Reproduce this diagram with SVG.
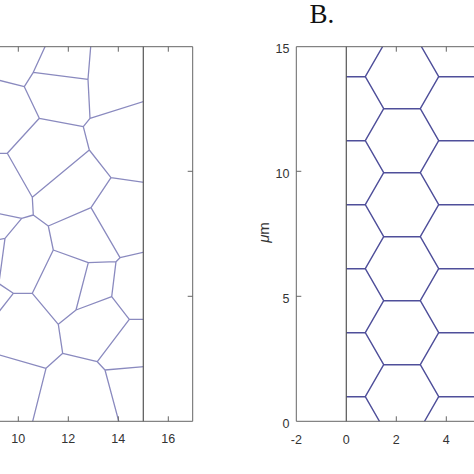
<svg xmlns="http://www.w3.org/2000/svg" width="474" height="474" viewBox="0 0 474 474">
<style>
.ax{stroke:#666;stroke-width:1;fill:none}
.dk{stroke:#555;stroke-width:1.2;fill:none}
.vor{stroke:#8a8abf;stroke-width:1.3;fill:none;stroke-linecap:round;stroke-linejoin:round}
.hex{stroke:#4f4f9a;stroke-width:1.4;fill:none;stroke-linejoin:round}
.tl{font-family:"Liberation Sans",Arial,sans-serif;font-size:12.5px;fill:#333}
.ttl{font-family:"Liberation Serif","Times New Roman",serif;font-size:27px;fill:#111}
</style>
<defs>
<clipPath id="cl"><rect x="0" y="46.7" width="143.3" height="374.6"/></clipPath>
<clipPath id="cr"><rect x="296.3" y="46.7" width="180" height="374.6"/></clipPath>
</defs>
<rect width="474" height="474" fill="#fff"/>

<g id="left-plot">
<g id="voronoi" clip-path="url(#cl)">
<path class="vor" d="M46.5,43.5 L33.3,72.3 L88,79.3 M91,43 L88,79.3 L90,118.3 M33.3,72.3 L24.3,86.7 M-2,80 L24.3,86.7 L39.3,118.3 L83.3,126.7 L90,118.3 L146,100.8 M39.3,118.3 L7.3,153.3 M-2,153.3 L7.3,153.3 L32.3,197.3 M83.3,126.7 L89.3,150 L32.3,197.3 L33.3,215 M89.3,150 L111,177.7 L146,182.7 M111,177.7 L91,207.7 L48.3,226 L33.3,215 L21.7,218.3 L-2,213.5 M21.7,218.3 L5,238.3 L-2,239.7 M5,238.3 L-0.5,279 M48.3,226 L53.3,250 L88.3,262.7 L116,261.7 L120,257.7 L146,251.7 M91,207.7 L120,257.7 M116,261.7 L111.7,296.7 L129.3,319.3 L146,319.3 M88.3,262.7 L76,310 L111.7,296.7 M53.3,250 L32.3,293.3 L13.3,293.3 L-2,283 M13.3,293.3 L-2,313 M32.3,293.3 L58.3,324.3 L76,310 M58.3,324.3 L62.7,353.3 L97.3,361.7 L129.3,319.3 M97.3,361.7 L105,370 L146,366.5 M105,370 L119.5,424 M62.7,353.3 L46,368.3 L-2,354.5 M46,368.3 L32,424"/>
</g>
<g id="left-axes">
<path class="ax" d="M0,46.7 H192.7 V421.3 H0"/>
<path class="dk" d="M143.3,46.7 V421.3"/>
<path class="ax" d="M18.3,46.7 v5 M68.3,46.7 v5 M118.3,46.7 v5 M168.3,46.7 v5 M18.3,421.3 v-5 M68.3,421.3 v-5 M118.3,421.3 v-5 M168.3,421.3 v-5 M192.7,171.3 h-5 M192.7,296.3 h-5"/>
<text class="tl" x="18.3" y="442.5" text-anchor="middle">10</text>
<text class="tl" x="68.3" y="442.5" text-anchor="middle">12</text>
<text class="tl" x="118.3" y="442.5" text-anchor="middle">14</text>
<text class="tl" x="168.3" y="442.5" text-anchor="middle">16</text>
</g>
</g>

<g id="right-plot">
<text class="ttl" x="309.5" y="23">B.</text>
<g id="hexagons" clip-path="url(#cr)">
<path class="hex" d="M383.7,44.7 L365.3,76.7 L383.7,108.7 L365.3,140.7 L383.7,172.7 L365.3,204.7 L383.7,236.7 L365.3,268.7 L383.7,300.7 L365.3,332.7 L383.7,364.7 L365.3,396.7 L383.7,428.7"/>
<path class="hex" d="M420.3,44.7 L438.7,76.7 L420.3,108.7 L438.7,140.7 L420.3,172.7 L438.7,204.7 L420.3,236.7 L438.7,268.7 L420.3,300.7 L438.7,332.7 L420.3,364.7 L438.7,396.7 L420.3,428.7"/>
<path class="hex" d="M383.7,108.7 H420.3 M383.7,172.7 H420.3 M383.7,236.7 H420.3 M383.7,300.7 H420.3 M383.7,364.7 H420.3"/>
<path class="hex" d="M346.3,76.7 H365.3 M346.3,140.7 H365.3 M346.3,204.7 H365.3 M346.3,268.7 H365.3 M346.3,332.7 H365.3 M346.3,396.7 H365.3"/>
<path class="hex" d="M438.7,76.7 H476 M438.7,140.7 H476 M438.7,204.7 H476 M438.7,268.7 H476 M438.7,332.7 H476 M438.7,396.7 H476"/>
</g>
<g id="right-axes">
<path class="ax" d="M476,46.7 H296.3 V421.3 H476"/>
<path class="dk" d="M346.3,46.7 V421.3"/>
<path class="ax" d="M396.3,46.7 v5 M446.3,46.7 v5 M396.3,421.3 v-5 M446.3,421.3 v-5 M296.3,171.3 h5 M296.3,296.3 h5"/>
<text class="tl" x="289.5" y="52.5" text-anchor="end">15</text>
<text class="tl" x="289.5" y="177.5" text-anchor="end">10</text>
<text class="tl" x="289.5" y="302.5" text-anchor="end">5</text>
<text class="tl" x="289.5" y="427.5" text-anchor="end">0</text>
<text class="tl" x="296.3" y="443.5" text-anchor="middle">-2</text>
<text class="tl" x="346.3" y="443.5" text-anchor="middle">0</text>
<text class="tl" x="396.3" y="443.5" text-anchor="middle">2</text>
<text class="tl" x="446.3" y="443.5" text-anchor="middle">4</text>
<text class="tl" style="font-size:15px" transform="translate(268.5,232.5) rotate(-90)" text-anchor="middle"><tspan font-style="italic">μ</tspan>m</text>
</g>
</g>
</svg>
